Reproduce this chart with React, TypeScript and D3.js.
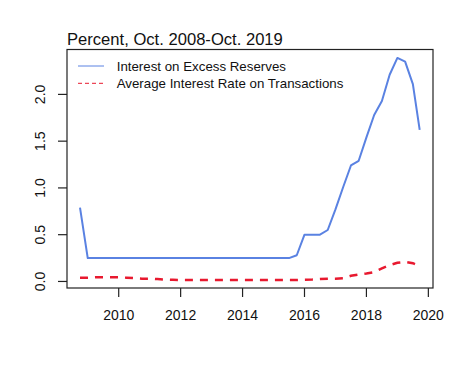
import React from "react";
import * as d3 from "d3";

const dates: number[] = [
  2008.75, 2009.0, 2009.25, 2009.5, 2009.75, 2010.0, 2010.25, 2010.5, 2010.75,
  2011.0, 2011.25, 2011.5, 2011.75, 2012.0, 2012.25, 2012.5, 2012.75,
  2013.0, 2013.25, 2013.5, 2013.75, 2014.0, 2014.25, 2014.5, 2014.75,
  2015.0, 2015.25, 2015.5, 2015.75, 2016.0, 2016.25, 2016.5, 2016.75,
  2017.0, 2017.25, 2017.5, 2017.75, 2018.0, 2018.25, 2018.5, 2018.75,
  2019.0, 2019.25, 2019.5, 2019.72,
];

const ioer: number[] = [
  0.79, 0.25, 0.25, 0.25, 0.25, 0.25, 0.25, 0.25, 0.25,
  0.25, 0.25, 0.25, 0.25, 0.25, 0.25, 0.25, 0.25,
  0.25, 0.25, 0.25, 0.25, 0.25, 0.25, 0.25, 0.25,
  0.25, 0.25, 0.25, 0.28, 0.5, 0.5, 0.5, 0.55,
  0.77, 1.01, 1.24, 1.29, 1.54, 1.78, 1.93, 2.21,
  2.39, 2.35, 2.11, 1.62,
];

const avgRate: number[] = [
  0.04, 0.04, 0.045, 0.045, 0.045, 0.045, 0.04, 0.035, 0.03,
  0.03, 0.025, 0.02, 0.018, 0.016, 0.016, 0.016, 0.016,
  0.016, 0.016, 0.016, 0.016, 0.016, 0.016, 0.016, 0.016,
  0.016, 0.016, 0.016, 0.016, 0.018, 0.02, 0.025, 0.028,
  0.03, 0.035, 0.06, 0.075, 0.085, 0.1, 0.14, 0.175,
  0.2, 0.21, 0.195, 0.165,
];

const xTicks: number[] = [2010, 2012, 2014, 2016, 2018, 2020];
const yTicks: number[] = [0, 0.5, 1.0, 1.5, 2.0];
const title = "Percent, Oct. 2008-Oct. 2019";
const seriesNames: string[] = [
  "Interest on Excess Reserves",
  "Average Interest Rate on Transactions",
];

const BLUE = "#5a82e2";
const RED = "#e8192f";
const FONT = "'Liberation Sans', Arial, sans-serif";

export default function App() {
  const W = 474, H = 373;
  const left = 67, right = 433, top = 49.5, bottom = 288;
  const x = d3.scaleLinear().domain([2008.33, 2020.15]).range([left, right]);
  const y = d3.scaleLinear().domain([-0.07, 2.48]).range([bottom, top]);

  const line = (vals: number[]) =>
    d3.line<number>()
      .x((_, i) => x(dates[i]))
      .y((v) => y(v))(vals) as string;

  return (
    <svg
      width={W}
      height={H}
      style={{ position: "absolute", left: 0, top: 0, background: "#fff" }}
      fontFamily={FONT}
    >
      <rect x={0} y={0} width={W} height={H} fill="#fff" />
      <text x={left} y={45.3} fontSize={16.6} fill="#111">{title}</text>

      <path d={line(ioer)} fill="none" stroke={BLUE} strokeWidth={2} strokeLinejoin="round" />
      <path d={line(avgRate)} fill="none" stroke={RED} strokeWidth={2.5} strokeDasharray="8,7" />

      <rect x={left} y={top} width={right - left} height={bottom - top} fill="none" stroke="#222" strokeWidth={1.2} />

      {xTicks.map((t) => (
        <g key={t}>
          <line x1={x(t)} x2={x(t)} y1={bottom} y2={bottom + 9} stroke="#222" strokeWidth={1.2} />
          <text x={x(t)} y={319.5} fontSize={14} textAnchor="middle" fill="#111">{t}</text>
        </g>
      ))}
      {yTicks.map((t) => (
        <g key={t}>
          <line x1={left - 9} x2={left} y1={y(t)} y2={y(t)} stroke="#222" strokeWidth={1.2} />
          <text
            transform={`translate(${44.5},${y(t)}) rotate(-90)`}
            fontSize={14}
            textAnchor="middle"
            fill="#111"
          >
            {t.toFixed(1)}
          </text>
        </g>
      ))}

      <line x1={78} x2={104} y1={66} y2={66} stroke={BLUE} strokeWidth={1} />
      <text x={116.7} y={70.8} fontSize={13.3} fill="#111">{seriesNames[0]}</text>
      <line x1={78} x2={104} y1={83.3} y2={83.3} stroke={RED} strokeWidth={1} strokeDasharray="4,3" />
      <text x={116.7} y={88.1} fontSize={13.3} fill="#111">{seriesNames[1]}</text>
    </svg>
  );
}
